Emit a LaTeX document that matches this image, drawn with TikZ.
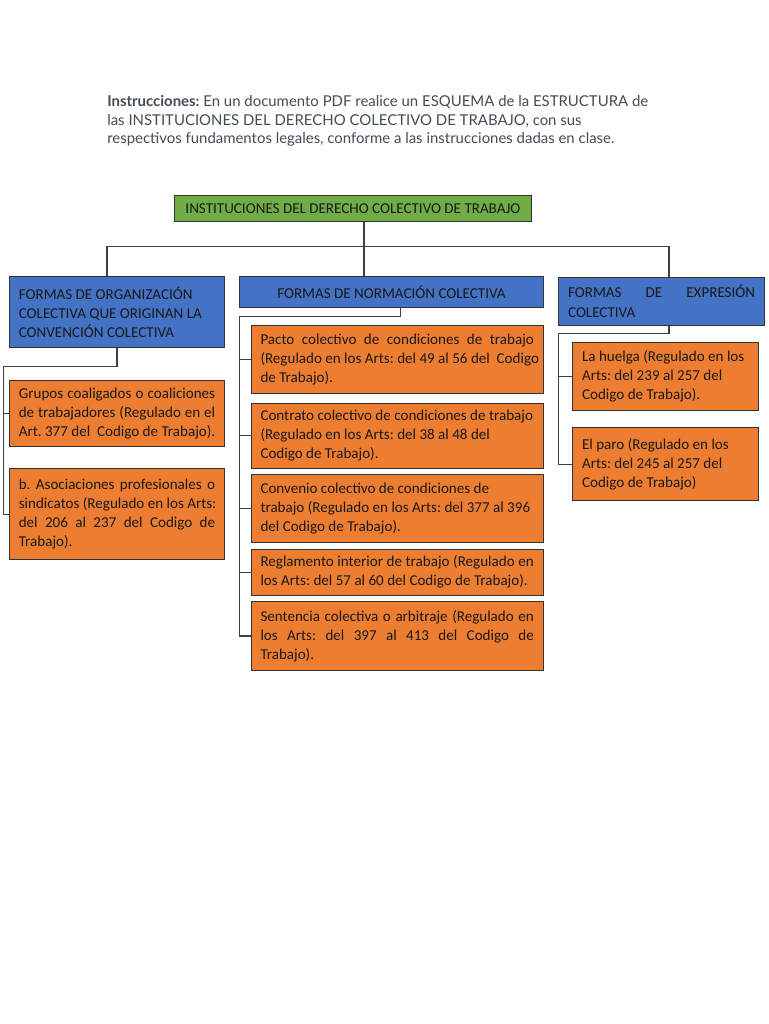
\documentclass[tikz,border=0pt]{standalone}
\usepackage{fontspec}
\setmainfont{Carlito}
\newfontfamily\latofont{Lato}
\usepackage{xcolor}
\usepackage{tikz}
\usetikzlibrary{positioning}

\definecolor{boxgreen}{HTML}{70AD47}
\definecolor{boxblue}{HTML}{4472C4}
\definecolor{boxorange}{HTML}{ED7D31}
\definecolor{instrgray}{HTML}{434C57}

\newcommand{\fullline}[1]{\makebox[\hsize][s]{\spaceskip=\fontdimen2\font plus 1fil\relax #1}}
\frenchspacing

\begin{document}
\begin{tikzpicture}[x=1pt, y=-1pt,
    box/.style = {draw=black!80, line width=0.75pt, anchor=north west,
        inner xsep=7pt, inner ysep=0pt, align=flush left,
        font=\fontsize{11.3}{14.4}\selectfont, text=black!90},
    greenbox/.style = {box, fill=boxgreen, align=flush center},
    bluebox/.style = {box, fill=boxblue},
    orangebox/.style = {box, fill=boxorange},
    link/.style = {draw=black!75, line width=0.8pt}]
        \path[fill=white, use as bounding box] (0, 0) rectangle (576, 768);

        \node[anchor=north west, inner sep=0pt, align=flush left, text=instrgray,
            font=\latofont\fontsize{11.2}{14}\selectfont] (instr) at (80.25, 71.25)
            {\textbf{Instrucciones:} En un documento PDF realice un ESQUEMA de la ESTRUCTURA de\\
             las INSTITUCIONES DEL DERECHO COLECTIVO DE TRABAJO, con sus\\
             respectivos fundamentos legales, conforme a las instrucciones dadas en clase.};

        % top and first level
        \node[greenbox, minimum width=267.75pt, minimum height=19.5pt] (inst) at (130.5, 146.25)
            {INSTITUCIONES DEL DERECHO COLECTIVO DE TRABAJO};
        \node[bluebox, text width=147.25pt, minimum height=53.25pt] (org) at (6.75, 207)
            {FORMAS DE ORGANIZACIÓN\\ COLECTIVA QUE ORIGINAN LA\\ CONVENCIÓN COLECTIVA};
        \node[bluebox, align=flush center, minimum width=227.5pt, minimum height=23.7pt] (norm) at (179.5, 206.8)
            {FORMAS DE NORMACIÓN COLECTIVA};
        \node[bluebox, text width=140.3pt, minimum height=36.25pt] (expr) at (418.7, 207.5)
            {\fullline{FORMAS DE EXPRESIÓN}\\ COLECTIVA};

        % left column
        \node[orangebox, text width=147.25pt, minimum height=49.5pt] (grupos) at (6.75, 285)
            {\fullline{Grupos coaligados o coaliciones}\\
             \fullline{de trabajadores (Regulado en el}\\
             \mbox{Art. 377 del\ \ Codigo de Trabajo).}};
        \node[orangebox, text width=147.25pt, minimum height=68pt] (asoc) at (6.75, 351.2)
            {\fullline{b. Asociaciones profesionales o}\\
             \fullline{sindicatos (Regulado en los Arts:}\\
             \fullline{del 206 al 237 del Codigo de}\\
             Trabajo).};

        % middle column
        \node[orangebox, text width=205pt, minimum height=50.75pt] (pacto) at (188, 243.75)
            {\fullline{Pacto colectivo de condiciones de trabajo}\\
             \fullline{(Regulado en los Arts: del 49 al 56 del\ \ Codigo}\\
             de Trabajo).};
        \node[orangebox, text width=205pt, minimum height=48.75pt] (contrato) at (188, 302)
            {\mbox{Contrato colectivo de condiciones de trabajo}\\
             \mbox{(Regulado en los Arts: del 38 al 48 del}\\
             Codigo de Trabajo).};
        \node[orangebox, text width=205pt, minimum height=51pt] (convenio) at (188, 355.7)
            {\mbox{Convenio colectivo de condiciones de}\\
             \mbox{trabajo (Regulado en los Arts: del 377 al 396}\\
             del Codigo de Trabajo).};
        \node[orangebox, text width=205pt, minimum height=34.5pt] (reglamento) at (188, 411.5)
            {\fullline{Reglamento interior de trabajo (Regulado en}\\
             \mbox{los Arts: del 57 al 60 del Codigo de Trabajo).}};
        \node[orangebox, text width=205pt, minimum height=51.75pt] (sentencia) at (188, 450.75)
            {\fullline{Sentencia colectiva o arbitraje (Regulado en}\\
             \fullline{los Arts: del 397 al 413 del Codigo de}\\
             Trabajo).};

        % right column
        \node[orangebox, text width=125.5pt, minimum height=51.2pt] (huelga) at (429.2, 256.3)
            {La huelga (Regulado en los\\ Arts: del 239 al 257 del\\ Codigo de Trabajo).};
        \node[orangebox, text width=125.5pt, minimum height=54.5pt] (paro) at (429.2, 320.5)
            {El paro (Regulado en los\\ Arts: del 245 al 257 del\\ Codigo de Trabajo)};

        % connectors
        \coordinate (busL) at (80.25, 185);
        \coordinate (busM) at (273, 185);
        \coordinate (busR) at (501.75, 185);
        \draw[link] (inst.south -| busM) -- (busM);
        \draw[link] (busL |- org.north) |- (busR) -- (busR |- expr.north);
        \draw[link] (busM) -- (busM |- norm.north);

        \coordinate (lstem) at (2.5, 275);
        \draw[link] (org.south) |- (lstem) |- (asoc.west);
        \draw[link] (lstem |- grupos.west) -- (grupos.west);

        \coordinate (mstem) at (179.5, 237.5);
        \draw[link] ([xshift=6.75pt]norm.south) |- (mstem) |- (sentencia.west);
        \foreach \n in {pacto, contrato, convenio, reglamento}
            \draw[link] (mstem |- \n.west) -- (\n.west);

        \coordinate (rstem) at (418.7, 250);
        \draw[link] ([xshift=5.5pt]expr.south) |- (rstem) |- (paro.west);
        \draw[link] (rstem |- huelga.west) -- (huelga.west);
    \end{tikzpicture}
\end{document}
